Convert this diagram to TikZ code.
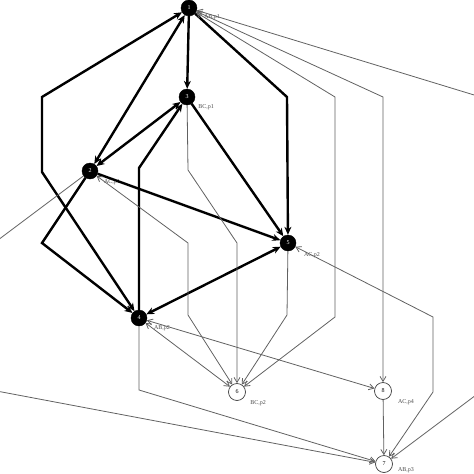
\documentclass[tikz,border=0pt]{standalone}
\usepackage{fontspec}
\setmainfont{Liberation Serif}
\usetikzlibrary{arrows.meta}
\begin{document}
\begin{tikzpicture}[x=1pt,y=-1pt,
  fnode/.style={circle,fill=black,draw=black,minimum size=16pt,inner sep=0pt,text=white,font=\fontsize{6}{7}\selectfont},
  onode/.style={circle,fill=white,draw=black!75,line width=0.7pt,minimum size=17pt,inner sep=0pt,font=\fontsize{6}{7}\selectfont},
  lab/.style={font=\fontsize{6}{7}\selectfont,text=black!70,inner sep=0pt},
  bold/.style={line width=2.4pt,black,line join=miter,arrows={-Stealth[length=8pt,width=7pt]}},
  boldd/.style={line width=2.4pt,black,line join=miter,arrows={Stealth[length=8pt,width=7pt]-Stealth[length=8pt,width=7pt]}},
  thin/.style={line width=0.8pt,black!62,arrows={-Straight Barb[length=5pt,width=6pt]}},
  thind/.style={line width=0.8pt,black!62,arrows={Straight Barb[length=5pt,width=6pt]-Straight Barb[length=5pt,width=6pt]}},
  plain/.style={line width=0.8pt,black!62}]
\useasboundingbox (0,0) rectangle (474,474);
% nodes
\node[fnode] (n1) at (189,8) {1};
\node[fnode] (n3) at (187,97) {3};
\node[fnode] (n2) at (90,171) {2};
\node[fnode] (n5) at (288,243) {5};
\node[fnode] (n4) at (139,318) {4};
\node[onode] (n6) at (237,392) {6};
\node[onode] (n8) at (383,391) {8};
\node[onode] (n7) at (384,464) {7};
% labels
\node[lab] (l1) at (212,17) {AB,p1};
\node[lab] (l3) at (206,107) {BC,p1};
\node[lab] (l2) at (112,182) {AC,p1};
\node[lab] (l5) at (312,255) {AC,p2};
\node[lab] (l4) at (162,328) {AB,p2};
\node[lab] (l6) at (258,403) {BC,p2};
\node[lab] (l8) at (406,402) {AC,p4};
\node[lab] (l7) at (406,470) {AB,p3};
% bend coordinates
\coordinate (a15) at (287,97);
\coordinate (a14a) at (42,97);
\coordinate (a14b) at (42,172);
\coordinate (a24) at (42,243);
\coordinate (a43) at (139,168);
\coordinate (t18) at (383,97);
\coordinate (t16a) at (335,97);
\coordinate (t16b) at (335,317);
\coordinate (t36a) at (188,170);
\coordinate (t36b) at (237,243);
\coordinate (t26a) at (188,243);
\coordinate (t26b) at (188,315);
\coordinate (t56) at (287,315);
\coordinate (t57a) at (433,317);
\coordinate (t57b) at (433,392);
\coordinate (t47) at (139,390);
\coordinate (oR1) at (520,109);
\coordinate (oL2) at (-30,261);
\coordinate (oL7) at (-30,386);
\coordinate (oR7) at (500,377);
% thick edges
\draw[boldd] (n1) -- (n2);
\draw[bold] (n1) -- (n3);
\draw[boldd] (n2) -- (n3);
\draw[bold] (n1) -- (a15) -- (n5);
\draw[boldd] (n1) -- (a14a) -- (a14b) -- (n4);
\draw[bold] (n2) -- (a24) -- (n4);
\draw[bold] (n4) -- (a43) -- (n3);
\draw[bold] (n3) -- (n5);
\draw[bold] (n2) -- (n5);
\draw[boldd] (n4) -- (n5);
% thin edges
\draw[thind] (n1) -- (oR1);
\draw[thind] (n1) -- (t18) -- (n8);
\draw[thind] (n1) -- (t16a) -- (t16b) -- (n6);
\draw[thin] (n3) -- (t36a) -- (t36b) -- (n6);
\draw[thind] (n2) -- (t26a) -- (t26b) -- (n6);
\draw[thin] (n5) -- (t56) -- (n6);
\draw[thind] (n5) -- (t57a) -- (t57b) -- (n7);
\draw[thind] (n4) -- (n6);
\draw[thind] (n4) -- (n8);
\draw[thin] (n4) -- (t47) -- (n7);
\draw[thin] (n8) -- (n7);
\draw[plain] (n2) -- (oL2);
\draw[thin] (oL7) -- (n7);
\draw[thin] (oR7) -- (n7);
\end{tikzpicture}
\end{document}
